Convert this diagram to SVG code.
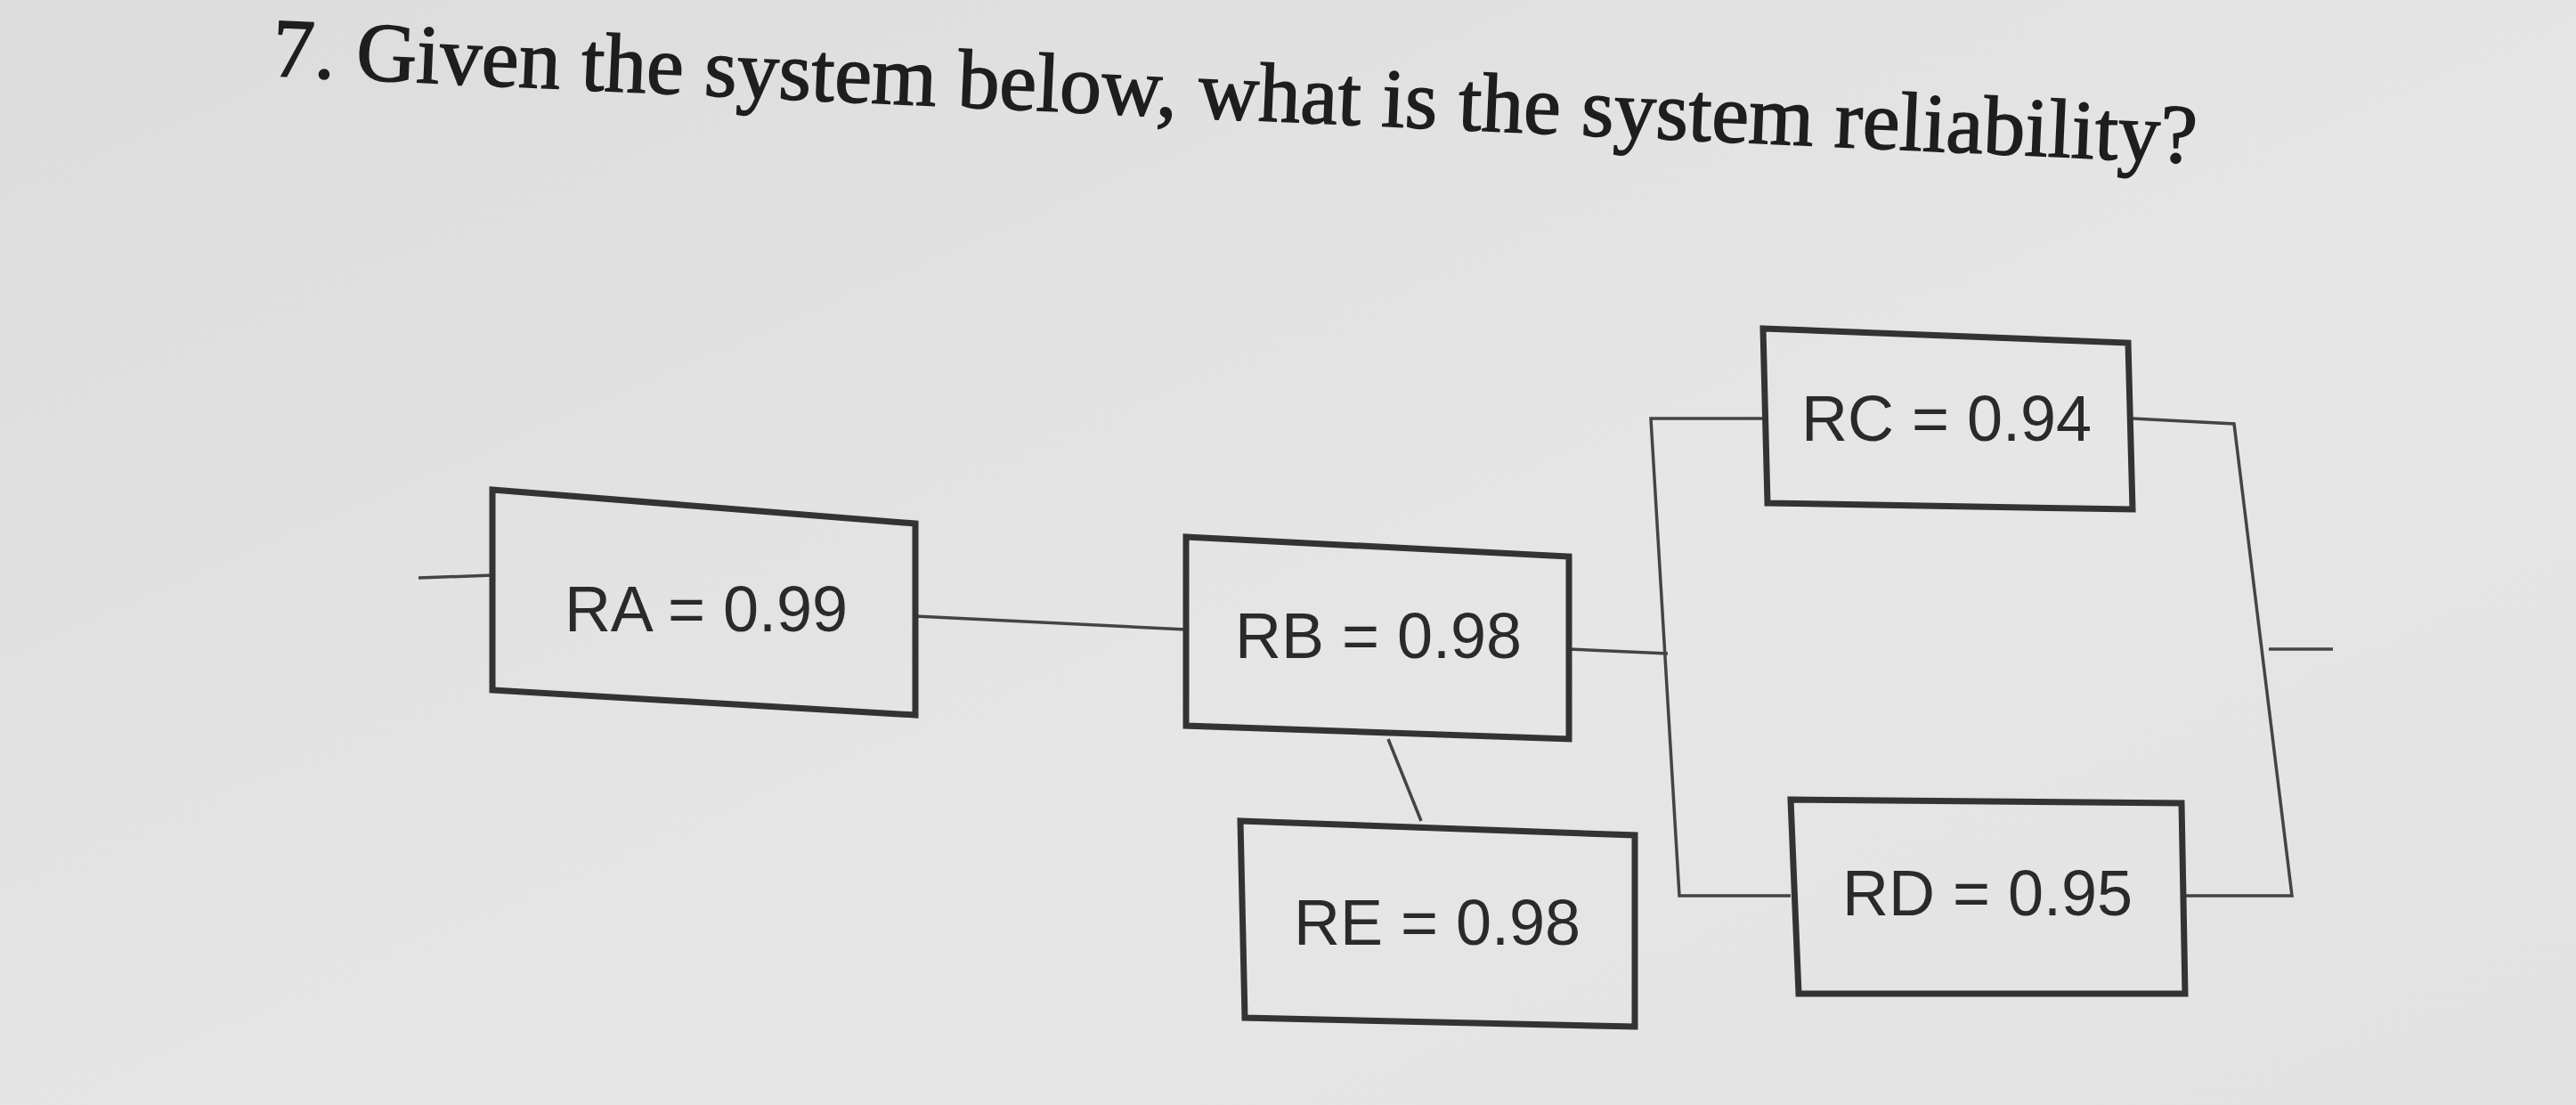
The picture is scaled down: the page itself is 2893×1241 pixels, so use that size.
<svg xmlns="http://www.w3.org/2000/svg" width="2893" height="1241" viewBox="0 0 2893 1241">
<defs>
<linearGradient id="bg" x1="0" y1="0" x2="1" y2="1"><stop offset="0" stop-color="#dcdcdc"/><stop offset="0.6" stop-color="#e6e6e6"/><stop offset="1" stop-color="#e2e2e2"/></linearGradient>
</defs>
<style>
.box{fill:none;stroke:#333;stroke-width:7}
.ln{fill:none;stroke:#444;stroke-width:3.5}
.lbl{font-family:"Liberation Sans",Arial,sans-serif;font-size:72px;fill:#2a2a2a;text-anchor:middle;dominant-baseline:middle}
.title{font-family:"Liberation Serif","Times New Roman",serif;font-size:94px;fill:#1e1e1e;stroke:#1e1e1e;stroke-width:1.5}
</style>
<rect width="2893" height="1241" fill="url(#bg)"/>
<text class="title" x="305" y="85" transform="rotate(2.6 305 85)">7. Given the system below, what is the system reliability?</text>
<g id="connectors">
<polyline class="ln" points="470,649 553,646"/>
<polyline class="ln" points="1028,692 1332,707"/>
<polyline class="ln" points="1762,729 1873,734"/>
<polyline class="ln" points="1980,470 1854,470 1886,1006 2011,1006"/>
<polyline class="ln" points="2395,470 2509,476 2574,1006 2454,1006"/>
<polyline class="ln" points="2548,729 2620,729"/>
<polyline class="ln" points="1559,830 1596,922"/>
</g>
<g id="RA"><polygon class="box" points="553,550 1028,588 1028,803 553,775"/><text class="lbl" x="793" y="690">RA = 0.99</text></g>
<g id="RB"><polygon class="box" points="1332,603 1762,625 1762,830 1332,815"/><text class="lbl" x="1548" y="720">RB = 0.98</text></g>
<g id="RC"><polygon class="box" points="1980,369 2390,385 2395,572 1985,565"/><text class="lbl" x="2186" y="476">RC = 0.94</text></g>
<g id="RD"><polygon class="box" points="2011,898 2450,902 2454,1116 2020,1116"/><text class="lbl" x="2232" y="1009">RD = 0.95</text></g>
<g id="RE"><polygon class="box" points="1393,922 1836,938 1836,1153 1398,1143"/><text class="lbl" x="1614" y="1042">RE = 0.98</text></g>
</svg>
